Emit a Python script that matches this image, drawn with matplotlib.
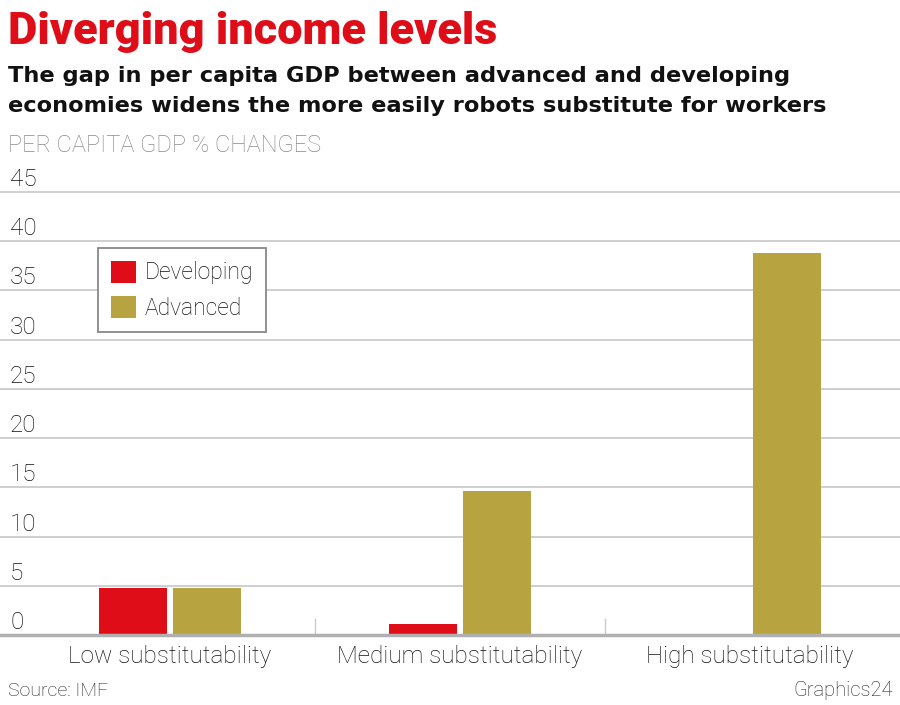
import matplotlib
matplotlib.use("Agg")
import matplotlib.pyplot as plt
from matplotlib.patches import Patch
from matplotlib.transforms import offset_copy

# data
categories = ["Low substitutability", "Medium substitutability", "High substitutability"]
developing = [4.8, 1.1, 0.0]
advanced = [4.75, 14.6, 38.8]
y_ticks = [0, 5, 10, 15, 20, 25, 30, 35, 40, 45]

RED = "#df0d18"
GOLD = "#b8a341"
GRID = "#cbcbcb"

plt.rcParams["font.family"] = ["Roboto", "DejaVu Sans"]

W, H = 900, 705
fig = plt.figure(figsize=(9, 7.05), dpi=100)

# axes spans the full width; y=0 at px 635, y=45 at px 192
px_per_unit = (635 - 192) / 45
ytop = 45.3
bottom_px = 635
ax = fig.add_axes([0, (H - bottom_px) / H, 1, ytop * px_per_unit / H])

# category centres at px 170, 460, 750 -> spacing 290 px
spacing = 290
ax.set_xlim(-170 / spacing, (W - 170) / spacing)
ax.set_ylim(0, ytop)

x = list(range(len(categories)))
bw = 68 / spacing
off = 37 / spacing
ax.bar([i - off for i in x], developing, width=bw, color=RED, zorder=3, label="Developing")
ax.bar([i + off for i in x], advanced, width=bw, color=GOLD, zorder=3, label="Advanced")

for s in ["top", "left", "right"]:
    ax.spines[s].set_visible(False)
ax.spines["bottom"].set_color("#b0b0b0")
ax.spines["bottom"].set_linewidth(2.5)
ax.spines["bottom"].set_zorder(4)

ax.set_yticks(y_ticks)
ax.tick_params(axis="y", length=0, labelleft=False)
ax.yaxis.grid(True, color=GRID, linewidth=1.3, zorder=0)
for gl in ax.get_ygridlines():
    gl.set_clip_on(False)

# y labels sit above the gridlines, at the left edge
tr = offset_copy(ax.get_yaxis_transform(), fig=fig, x=10, y=6, units="dots")
for v in y_ticks:
    ax.text(0, v, str(v), transform=tr, ha="left", va="baseline",
            fontsize=17.5, fontweight="light", color="#111111")

ax.set_xticks(x)
ax.set_xticklabels(categories, fontsize=17.5, fontweight="light", color="#111111")
ax.tick_params(axis="x", length=0, pad=7)
ax.set_xticks([0.5, 1.5], minor=True)
ax.tick_params(axis="x", which="minor", direction="in", length=12, width=1, color=GRID)

leg = ax.legend(handles=[Patch(facecolor=RED, label="Developing"),
                         Patch(facecolor=GOLD, label="Advanced")],
                loc="upper left", bbox_to_anchor=(98 / W, 1 - 248 / H),
                bbox_transform=fig.transFigure, borderaxespad=0,
                fontsize=16.5, handlelength=1.1, handleheight=1.1,
                handletextpad=0.4, labelspacing=0.5, borderpad=0.55,
                fancybox=False, framealpha=1, edgecolor="#888888")
leg.get_frame().set_linewidth(1.3)
for t in leg.get_texts():
    t.set_fontweight("light")
    t.set_color("#111111")

def px(xp, yp):
    return xp / W, 1 - yp / H

fig.text(*px(8, 44), "Diverging income levels", fontsize=32.5, fontweight="black",
         color=RED, ha="left", va="baseline")
sub = dict(fontsize=16.2, fontweight="bold", color="#111111", ha="left",
           va="baseline", family=["DejaVu Sans"])
fig.text(*px(8, 82), "The gap in per capita GDP between advanced and developing", **sub)
fig.text(*px(8, 112), "economies widens the more easily robots substitute for workers", **sub)
fig.text(*px(8, 152), "PER CAPITA GDP % CHANGES", fontsize=17, fontweight="light",
         color="#8a8a8a", ha="left", va="baseline")
fig.text(*px(8, 696), "Source: IMF", fontsize=14, fontweight="light",
         color="#222222", ha="left", va="baseline")
fig.text(*px(893, 696), "Graphics24", fontsize=14.5, fontweight="light",
         color="#222222", ha="right", va="baseline")

fig.savefig("out.png", dpi=100)
